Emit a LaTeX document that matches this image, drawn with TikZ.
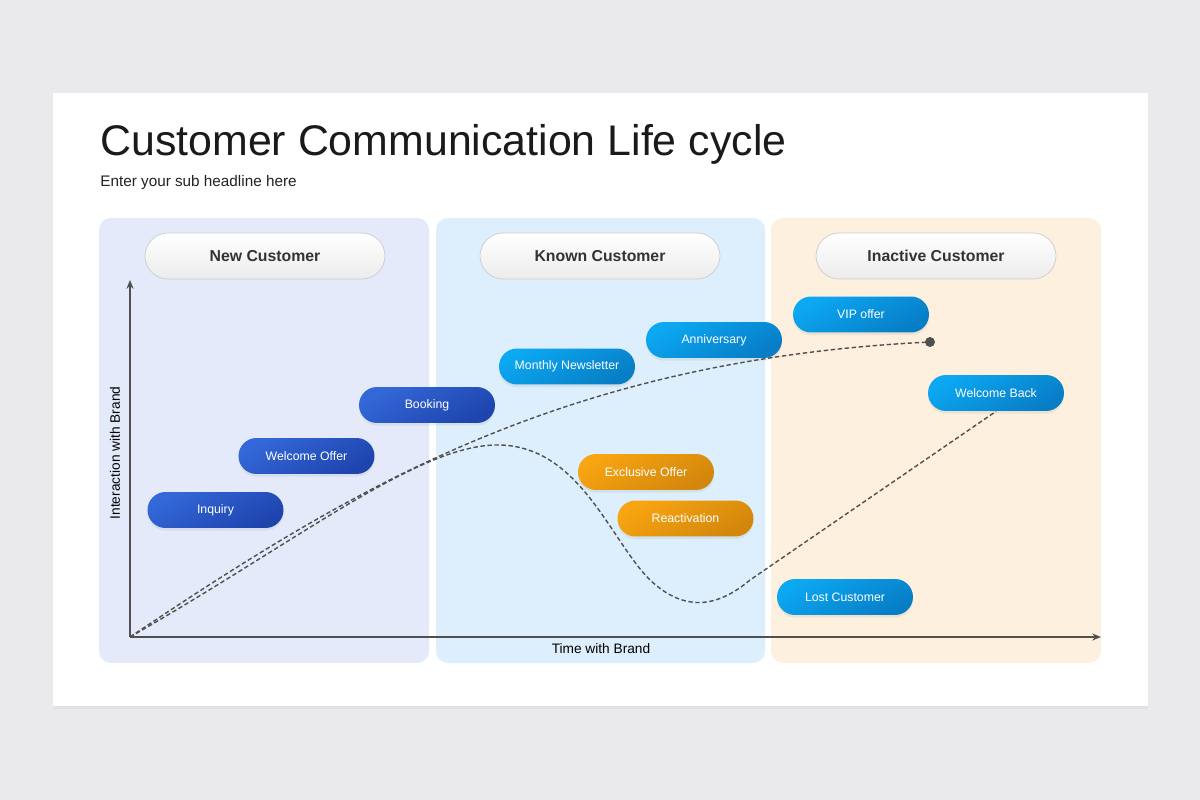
\documentclass[tikz,border=0pt]{standalone}
\usepackage{fontspec}
\setmainfont{Liberation Sans}
\usetikzlibrary{shadows,arrows.meta,positioning,calc}

\definecolor{bgray}{HTML}{EAE9EC}
\definecolor{panelA}{HTML}{E4EAF9}
\definecolor{panelB}{HTML}{DDEFFC}
\definecolor{panelC}{HTML}{FDF0DE}
\definecolor{darkA}{HTML}{3468D8}
\definecolor{darkB}{HTML}{1E44AE}
\definecolor{lightA}{HTML}{0CA8F2}
\definecolor{lightB}{HTML}{077DC6}
\definecolor{orA}{HTML}{F8A511}
\definecolor{orB}{HTML}{D2860C}
\definecolor{axisgray}{HTML}{505050}

\tikzstyle{panel} = [rounded corners=0.24cm, draw=none]
\tikzstyle{header} = [rounded corners=0.46cm, draw={rgb,255:red,204;green,204;blue,204}, top color=white, bottom color={rgb,255:red,236;green,236;blue,236}, minimum width=4.8cm, minimum height=0.92cm, font=\fontsize{9}{11}\selectfont\bfseries, text={rgb,255:red,51;green,51;blue,51}]
\tikzstyle{pill} = [rounded corners=0.36cm, minimum width=2.72cm, minimum height=0.72cm, text=white, font=\fontsize{7}{8.5}\selectfont, drop shadow={opacity=0.12, shadow xshift=0pt, shadow yshift=-1.5pt}]
\tikzstyle{newpill} = [pill, top color=darkA, bottom color=darkB, shading angle=30]
\tikzstyle{knownpill} = [pill, top color=lightA, bottom color=lightB, shading angle=30]
\tikzstyle{offerpill} = [pill, top color=orA, bottom color=orB, shading angle=30]
\tikzstyle{trend} = [thick, axisgray, dash pattern=on 2.5pt off 1.5pt]
\tikzstyle{axis} = [thick, axisgray, -{Stealth[length=5pt,width=4pt]}]

\begin{document}
\begin{tikzpicture}[x=0.02cm, y=-0.02cm]
  \fill[bgray] (0,0) rectangle (1200,800);
  \useasboundingbox (0,0) rectangle (1200,800);

  % slide
  \fill[white, drop shadow={opacity=0.08, shadow xshift=0pt, shadow yshift=-1.5pt}] (53,93) rectangle (1148,706);

  \node[anchor=base west, inner sep=0, font=\fontsize{24.4}{28}\selectfont, text={rgb,255:red,26;green,26;blue,26}] (title) at (100,156) {Customer Communication Life cycle};
  \node[anchor=base west, inner sep=0, font=\fontsize{8.7}{10}\selectfont, text={rgb,255:red,34;green,34;blue,34}] (subtitle) at (100,187) {Enter your sub headline here};

  % stages
  \fill[panel, panelA] (99,218) rectangle (429,663);
  \fill[panel, panelB] (436,218) rectangle (765,663);
  \fill[panel, panelC] (771,218) rectangle (1101,663);

  \node[header] (newhead) at (265,256) {New Customer};
  \node[header] (knownhead) at (600,256) {Known Customer};
  \node[header] (inactivehead) at (936,256) {Inactive Customer};

  % axes
  \coordinate (origin) at (130,637);
  \coordinate (ytop) at (130,280);
  \coordinate (xend) at (1101,637);
  \draw[axis] (origin) -- (ytop);
  \draw[axis] (origin) -- (xend);
  \node[rotate=90, font=\fontsize{7.8}{9}\selectfont] (ylabel) at (115,453) {Interaction with Brand};
  \node[font=\fontsize{7.8}{9}\selectfont] (xlabel) at (601,649) {Time with Brand};

  % messages
  \node[newpill] (inquiry) at (215.5,510) {Inquiry};
  \node[newpill] (welcome) at (306.5,456) {Welcome Offer};
  \node[newpill] (booking) at (427,405) {Booking};
  \node[knownpill] (newsletter) at (567,366.5) {Monthly Newsletter};
  \node[knownpill] (anniversary) at (714,340) {Anniversary};
  \node[knownpill] (vip) at (861,314.5) {VIP offer};
  \node[knownpill] (welcomeback) at (996,393) {Welcome Back};
  \node[offerpill] (exclusive) at (646,472) {Exclusive Offer};
  \node[offerpill] (reactivation) at (685.5,518.5) {Reactivation};
  \node[knownpill] (lost) at (845,597) {Lost Customer};

  % trends
  \node[circle, fill=axisgray, inner sep=0, minimum size=0.2cm] (vipdot) at (930,342) {};
  \draw[trend] (origin) .. controls (350,490) and (560,360) .. (vipdot.center);
  \draw[trend] (origin) .. controls (300,540) and (420,443) .. (500,445)
    .. controls (580,447) and (610,540) .. (650,580)
    .. controls (680,608) and (712,612) .. (750,580)
    -- (welcomeback.south);
\end{tikzpicture}
\end{document}
